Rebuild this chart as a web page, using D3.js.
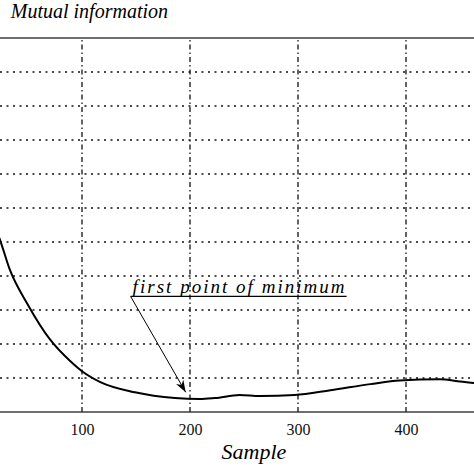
<!DOCTYPE html>
<html>
<head>
<meta charset="utf-8">
<script src="https://cdn.jsdelivr.net/npm/d3@7"></script>
<style>
  body { margin: 0; background: #fff; }
  text { font-family: "Liberation Serif", "DejaVu Serif", serif; }
</style>
</head>
<body>
<div id="chart"></div>
<script>
// Mutual information vs sample (values in grid units)
const samples = [10, 24, 33, 50, 70, 89, 100, 117, 149, 186, 209, 223, 246, 265, 297, 330, 367, 394, 431, 450, 463, 480];
const mutualInfo = [6.1, 5.07, 4.2, 3.15, 2.15, 1.5, 1.2, 0.88, 0.58, 0.41, 0.38, 0.41, 0.50, 0.47, 0.50, 0.64, 0.82, 0.93, 0.96, 0.90, 0.85, 0.8];
const xTicks = [100, 200, 300, 400];
const yTicks = d3.range(1, 11, 1);

const width = 474, height = 474;
const svg = d3.select("#chart").append("svg")
    .attr("width", width).attr("height", height);

const x = d3.scaleLinear().domain([0, 475]).range([-26, 487]);
const y = d3.scaleLinear().domain([0, 11]).range([412, 38]);

// Grid
svg.append("g").selectAll("line").data(yTicks).join("line")
    .attr("x1", x(0)).attr("x2", x(475))
    .attr("y1", d => y(d)).attr("y2", d => y(d))
    .attr("stroke", "#111").attr("stroke-width", 1.3)
    .attr("stroke-dasharray", "2,4.5");
svg.append("g").selectAll("line").data(xTicks).join("line")
    .attr("x1", d => x(d)).attr("x2", d => x(d))
    .attr("y1", y(0)).attr("y2", y(11))
    .attr("stroke", "#111").attr("stroke-width", 1.3)
    .attr("stroke-dasharray", "5,3,1.5,3");

// Frame
svg.append("rect")
    .attr("x", x(0)).attr("y", y(11))
    .attr("width", x(475) - x(0)).attr("height", y(0) - y(11))
    .attr("fill", "none").attr("stroke", "#222").attr("stroke-width", 1.3);

// X axis labels
svg.append("g")
    .attr("transform", `translate(0,${y(0)})`)
    .call(d3.axisBottom(x).tickValues(xTicks).tickSize(0).tickPadding(12))
    .call(g => g.select(".domain").remove())
    .selectAll("text")
    .style("font-size", "16px")
    .style("font-family", "'Liberation Serif', serif")
    .attr("fill", "#111");

// Curve
const line = d3.line()
    .x((d, i) => x(samples[i]))
    .y(d => y(d))
    .curve(d3.curveMonotoneX);
svg.append("path")
    .datum(mutualInfo)
    .attr("fill", "none").attr("stroke", "#000").attr("stroke-width", 2)
    .attr("d", line);

// Annotation
svg.append("defs").append("marker")
    .attr("id", "arrow").attr("viewBox", "0 0 10 10")
    .attr("refX", 10).attr("refY", 5)
    .attr("markerWidth", 12).attr("markerHeight", 12)
    .attr("markerUnits", "userSpaceOnUse")
    .attr("orient", "auto")
    .append("path").attr("d", "M0,1.5 L10,5 L0,8.5 L3,5 Z").attr("fill", "#000");

const ax = 145, ay = 3.4;
svg.append("text")
    .attr("x", x(ax) + 2).attr("y", y(ay) - 3)
    .attr("font-style", "italic").attr("font-size", "19px")
    .attr("textLength", 212)
    .text("first point of minimum");
svg.append("line")
    .attr("x1", x(ax)).attr("x2", x(ax) + 216)
    .attr("y1", y(ay)).attr("y2", y(ay))
    .attr("stroke", "#000").attr("stroke-width", 1.2);
svg.append("line")
    .attr("x1", x(ax)).attr("y1", y(ay))
    .attr("x2", x(196)).attr("y2", y(0.58))
    .attr("stroke", "#000").attr("stroke-width", 1)
    .attr("marker-end", "url(#arrow)");

// Axis titles
svg.append("text")
    .attr("x", 168).attr("y", 18)
    .attr("text-anchor", "end")
    .attr("font-style", "italic").attr("font-size", "20px")
    .text("Mutual information");
svg.append("text")
    .attr("x", 254).attr("y", 459)
    .attr("text-anchor", "middle")
    .attr("font-style", "italic").attr("font-size", "22px")
    .text("Sample");
</script>
</body>
</html>
